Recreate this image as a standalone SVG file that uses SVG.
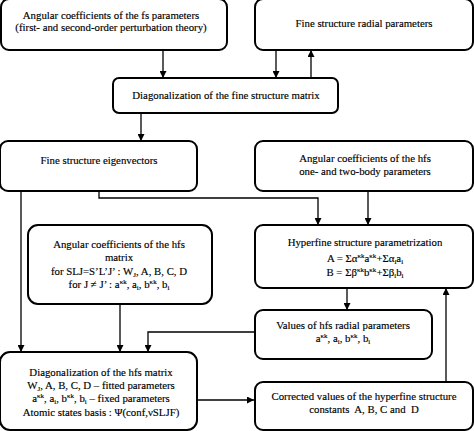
<svg xmlns="http://www.w3.org/2000/svg" width="474" height="431" viewBox="0 0 474 431">
<defs>
<marker id="arr" viewBox="0 0 10 10" refX="10" refY="5" markerWidth="7" markerHeight="7" markerUnits="userSpaceOnUse" orient="auto">
<path d="M0,0 L10,5 L0,10 z" fill="#000"/>
</marker>
<style>
.box{fill:#fff;stroke:#000;stroke-width:2}
.t{font-family:"Liberation Serif","Times New Roman",serif;font-size:10.8px;fill:#000;text-anchor:middle;stroke:#000;stroke-width:0.15}
.c{fill:none;stroke:#000;stroke-width:1.3}
.s{font-size:7px}
.pre{white-space:pre}
</style>
</defs>
<rect width="474" height="431" fill="#fff"/>
<g id="connectors">
<path class="c" d="M163,50 V78" marker-end="url(#arr)"/>
<path class="c" d="M276,50 V78" marker-end="url(#arr)"/>
<path class="c" d="M311,78 V50" marker-end="url(#arr)"/>
<path class="c" d="M141,113 V141" marker-end="url(#arr)"/>
<path class="c" d="M21,191 V352" marker-end="url(#arr)"/>
<path class="c" d="M99,191 V198 H318 V225" marker-end="url(#arr)"/>
<path class="c" d="M368,191 V225" marker-end="url(#arr)"/>
<path class="c" d="M120,304 V352" marker-end="url(#arr)"/>
<path class="c" d="M347,288 V310" marker-end="url(#arr)"/>
<path class="c" d="M254,332 H148 V352" marker-end="url(#arr)"/>
<path class="c" d="M197,400 H254" marker-end="url(#arr)"/>
<path class="c" d="M446,382 V288" marker-end="url(#arr)"/>
</g>
<g id="n1">
<rect class="box" x="1" y="-1" width="226" height="51" rx="8"/>
<text class="t" x="111" y="19">Angular coefficients of the fs parameters</text>
<text class="t" x="111" y="31">(first- and second-order perturbation theory)</text>
</g>
<g id="n2">
<rect class="box" x="255" y="-1" width="218" height="51" rx="8"/>
<text class="t" x="364" y="27">Fine structure radial parameters</text>
</g>
<g id="n3">
<rect class="box" x="113" y="78" width="225" height="35" rx="6"/>
<text class="t" x="226" y="99">Diagonalization of the fine structure matrix</text>
</g>
<g id="n4">
<rect class="box" x="0" y="141" width="197" height="50" rx="8"/>
<text class="t" x="99" y="164">Fine structure eigenvectors</text>
</g>
<g id="n5">
<rect class="box" x="255" y="141" width="218" height="50" rx="8"/>
<text class="t" x="365" y="162">Angular coefficients of the hfs</text>
<text class="t" x="365" y="175">one- and two-body parameters</text>
</g>
<g id="n6">
<rect class="box" x="28" y="225" width="184" height="79" rx="10"/>
<text class="t" x="119" y="248">Angular coefficients of the hfs</text>
<text class="t" x="119" y="261">matrix</text>
<text class="t" x="119" y="275">for SLJ=S’L’J’ : W<tspan class="s" dy="2">J</tspan><tspan dy="-2">, A, B, C, D</tspan></text>
<text class="t" x="119" y="288">for J ≠ J’ : a<tspan class="s" dy="-4">κk</tspan><tspan dy="4">, a</tspan><tspan class="s" dy="2">i</tspan><tspan dy="-2">, b</tspan><tspan class="s" dy="-4">κk</tspan><tspan dy="4">, b</tspan><tspan class="s" dy="2">i</tspan></text>
</g>
<g id="n7">
<rect class="box" x="255" y="225" width="218" height="63" rx="8"/>
<text class="t" x="365" y="246">Hyperfine structure parametrization</text>
<text class="t" x="365" y="262">A = Σα<tspan class="s" dy="-4">κk</tspan><tspan dy="4">a</tspan><tspan class="s" dy="-4">κk</tspan><tspan dy="4">+Σα</tspan><tspan class="s" dy="2">i</tspan><tspan dy="-2">a</tspan><tspan class="s" dy="2">i</tspan></text>
<text class="t" x="365" y="276">B = Σβ<tspan class="s" dy="-4">κk</tspan><tspan dy="4">b</tspan><tspan class="s" dy="-4">κk</tspan><tspan dy="4">+Σβ</tspan><tspan class="s" dy="2">i</tspan><tspan dy="-2">b</tspan><tspan class="s" dy="2">i</tspan></text>
</g>
<g id="n8">
<rect class="box" x="255" y="310" width="177" height="49" rx="8"/>
<text class="t" x="343" y="329">Values of hfs radial parameters</text>
<text class="t" x="343" y="342">a<tspan class="s" dy="-4">κk</tspan><tspan dy="4">, a</tspan><tspan class="s" dy="2">i</tspan><tspan dy="-2">, b</tspan><tspan class="s" dy="-4">κk</tspan><tspan dy="4">, b</tspan><tspan class="s" dy="2">i</tspan></text>
</g>
<g id="n9">
<rect class="box" x="0" y="352" width="197" height="78" rx="10"/>
<text class="t" x="101" y="376">Diagonalization of the hfs matrix</text>
<text class="t" x="101" y="389">W<tspan class="s" dy="2">J</tspan><tspan dy="-2">, A, B, C, D – fitted parameters</tspan></text>
<text class="t" x="101" y="402">a<tspan class="s" dy="-4">κk</tspan><tspan dy="4">, a</tspan><tspan class="s" dy="2">i</tspan><tspan dy="-2">, b</tspan><tspan class="s" dy="-4">κk</tspan><tspan dy="4">, b</tspan><tspan class="s" dy="2">i</tspan><tspan dy="-2"> – fixed parameters</tspan></text>
<text class="t" x="101" y="416">Atomic states basis : Ψ(conf,νSLJF)</text>
</g>
<g id="n10">
<rect class="box" x="255" y="382" width="218" height="48" rx="8"/>
<text class="t" x="364" y="400">Corrected values of the hyperfine structure</text>
<text class="t pre" x="364" y="413">constants  A, B, C and  D</text>
</g>
</svg>
